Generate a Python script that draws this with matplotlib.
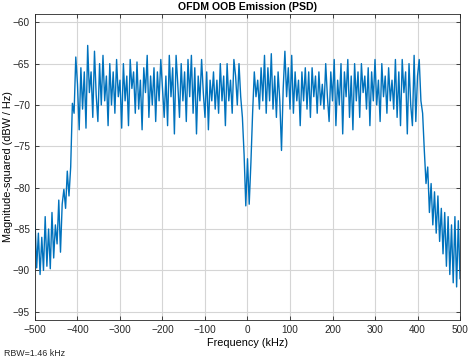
import numpy as np
import matplotlib
matplotlib.use("Agg")
import matplotlib.pyplot as plt

# frequency grid (kHz), 4 kHz spacing
f_start = -500
f_step = 4

# PSD values (dBW/Hz), left to right
psd = [
    -84.0, -89.7, -85.5, -90.5, -86.0, -90.0, -83.5, -89.5, -85.0, -89.8,
    -83.0, -88.5, -84.5, -86.8, -81.5, -87.8, -82.0, -80.2, -82.5, -78.0,
    -81.0, -77.5, -69.8, -71.0, -64.2, -67.5, -73.0, -65.5, -70.5, -66.0,
    -72.8, -62.8, -68.5, -66.0, -71.5, -63.5, -68.8, -72.0, -65.0, -70.0,
    -64.0, -69.5, -66.5, -72.5, -65.0, -70.0, -66.0, -71.0, -64.5, -69.0,
    -67.0, -72.8, -65.0, -69.5, -66.5, -72.5, -64.5, -68.0, -66.0, -71.0,
    -64.8, -70.5, -67.0, -73.0, -65.5, -68.5, -64.0, -71.5, -66.5, -70.0,
    -65.5, -72.0, -66.0, -69.5, -64.5, -68.0, -71.5, -66.5, -72.5, -64.0,
    -69.0, -65.5, -73.5, -64.0, -67.5, -71.5, -65.0, -69.5, -66.0, -72.0,
    -64.5, -69.0, -64.0, -71.0, -65.5, -73.5, -66.5, -69.5, -64.5, -68.5,
    -71.5, -66.0, -73.0, -67.0, -69.5, -66.0, -70.5, -67.0, -71.0, -65.0,
    -69.5, -66.5, -72.5, -65.0, -69.5, -67.0, -71.0, -64.5, -66.5, -70.0,
    -65.0, -69.0, -71.5, -76.0, -82.2, -76.5, -82.0, -77.0, -71.0, -66.0,
    -69.0, -67.0, -70.5, -65.5, -69.5, -64.0, -71.0, -65.5, -69.5, -63.8,
    -70.5, -66.5, -71.5, -66.0, -69.5, -75.5, -68.0, -63.5, -69.0, -65.5,
    -70.5, -64.0, -71.0, -66.0, -69.5, -67.0, -72.5, -66.0, -69.5, -65.5,
    -70.5, -66.0, -71.5, -65.5, -69.0, -66.5, -71.0, -66.0, -70.0, -67.5,
    -70.5, -65.0, -69.0, -72.0, -66.0, -69.5, -64.5, -72.5, -67.0, -70.0,
    -65.0, -73.5, -66.0, -69.0, -64.5, -71.5, -66.5, -73.0, -65.0, -69.5,
    -66.0, -71.5, -65.0, -68.5, -66.5, -70.5, -65.5, -72.5, -66.0, -69.5,
    -64.5, -70.0, -67.0, -72.0, -65.0, -69.0, -66.5, -71.0, -65.5, -69.5,
    -67.0, -70.5, -64.5, -71.5, -66.0, -72.5, -64.5, -68.5, -66.0, -73.5,
    -65.0, -70.0, -72.5, -64.0, -72.0, -66.5, -64.5, -69.5, -71.0, -75.5,
    -79.5, -77.5, -83.0, -79.5, -84.5, -80.5, -85.5, -81.0, -86.5, -82.5,
    -88.0, -83.0, -89.5, -83.5, -90.5, -84.5, -91.5, -83.5, -92.0, -84.0,
    -91.0,
]

freq = f_start + f_step * np.arange(len(psd))

xticks = list(range(-500, 501, 100))
yticks = list(range(-95, -59, 5))

plt.rcParams['font.family'] = ['Liberation Sans', 'DejaVu Sans']

fig = plt.figure(figsize=(4.74, 3.64), dpi=100)
ax = fig.add_axes([0.0738, 0.1209, 0.8967, 0.8406])

ax.plot(freq, psd, color='#0072BD', linewidth=1.0)

ax.set_xlim(-500, 500)
ax.set_ylim(-96, -59)
ax.set_xticks(xticks)
ax.set_yticks(yticks)
ax.tick_params(direction='in', labelsize=7.2, length=3, width=0.6,
               colors='#262626', top=True, right=True)
ax.grid(True, color='#d5d5d5', linewidth=0.8)
ax.set_axisbelow(True)
for s in ax.spines.values():
    s.set_color('#262626')
    s.set_linewidth(0.6)

ax.set_title('OFDM OOB Emission (PSD)', fontsize=7.6, fontweight='bold', pad=3)
ax.set_xlabel('Frequency (kHz)', fontsize=7.8, labelpad=2)
ax.set_ylabel('Magnitude-squared (dBW / Hz)', fontsize=7.8)
ax.yaxis.set_label_coords(-0.052, 0.5)

fig.text(0.008, 0.022, 'RBW=1.46 kHz', fontsize=6.4, color='#262626')

fig.savefig('out.png', dpi=100)
